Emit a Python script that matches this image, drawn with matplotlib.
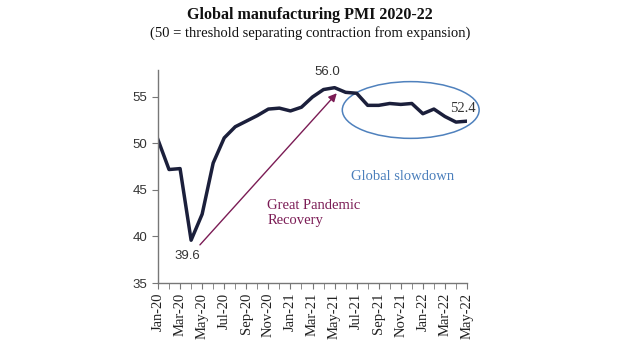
import matplotlib
matplotlib.use("Agg")
import matplotlib.pyplot as plt
from matplotlib.patches import Ellipse

months = ["Jan-20","Feb-20","Mar-20","Apr-20","May-20","Jun-20","Jul-20","Aug-20","Sep-20","Oct-20",
          "Nov-20","Dec-20","Jan-21","Feb-21","Mar-21","Apr-21","May-21","Jun-21","Jul-21","Aug-21",
          "Sep-21","Oct-21","Nov-21","Dec-21","Jan-22","Feb-22","Mar-22","Apr-22","May-22"]
pmi = [50.4, 47.2, 47.3, 39.6, 42.4, 47.9, 50.6, 51.8, 52.4, 53.0,
       53.7, 53.8, 53.5, 53.9, 55.0, 55.8, 56.0, 55.5, 55.4, 54.1,
       54.1, 54.3, 54.2, 54.3, 53.2, 53.7, 52.9, 52.3, 52.4]
yticks = [35, 40, 45, 50, 55]

serif = ["Liberation Serif", "DejaVu Serif"]
sans = ["Liberation Sans", "DejaVu Sans"]

fig = plt.figure(figsize=(6.2, 3.55), dpi=100)
ax = fig.add_axes([158/620, 1-283/355, (467-158)/620, (283-70)/355])
x = list(range(len(months)))
ax.plot(x, pmi, color="#1b1f3b", lw=2.5, solid_joinstyle="round")
ax.set_xlim(0, len(months)-1)
ax.set_ylim(35, 57.9)
ax.set_yticks(yticks)
ax.set_yticklabels([str(v) for v in yticks], fontfamily=sans, fontsize=9.5, color="#333333")
ax.set_xticks(x[::2])
ax.set_xticklabels(months[::2], rotation=90, fontfamily=serif, fontsize=10.5, color="#222222")
ax.set_xticks(x, minor=True)
ax.tick_params(axis="x", which="both", direction="out", length=4, color="#777777", pad=3)
ax.tick_params(axis="y", direction="out", length=4, color="#777777")
for s in ["top", "right"]:
    ax.spines[s].set_visible(False)
for s in ["left", "bottom"]:
    ax.spines[s].set_color("#777777")
    ax.spines[s].set_linewidth(1.0)

imin = pmi.index(min(pmi))
imax = pmi.index(max(pmi))
ax.text(imin - 0.3, pmi[imin] - 1.7, f"{pmi[imin]:.1f}", ha="center", va="center",
        fontfamily=sans, fontsize=9.5, color="#333333")
ax.text(imax - 0.7, pmi[imax] + 1.7, f"{pmi[imax]:.1f}", ha="center", va="center",
        fontfamily=sans, fontsize=9.5, color="#333333")
ax.text(len(pmi) - 1.4, pmi[-1] + 1.4, f"{pmi[-1]:.1f}", ha="center", va="center",
        fontfamily=serif, fontsize=10.5, color="#333333")

ax.annotate("", xy=(16.2, 55.4), xytext=(3.8, 39.1),
            arrowprops=dict(arrowstyle="-|>", color="#7b1c55", lw=1.0,
                            mutation_scale=12, shrinkA=0, shrinkB=0))
ax.text(9.9, 42.5, "Great Pandemic\nRecovery", ha="left", va="center",
        fontfamily=serif, fontsize=10.5, color="#7b1c55", linespacing=1.15)

ax.add_patch(Ellipse((22.9, 53.6), 12.4, 6.1, fill=False, edgecolor="#4f81bd", lw=1.1,
                     clip_on=False))
ax.text(22.2, 46.4, "Global slowdown", ha="center", va="center",
        fontfamily=serif, fontsize=10.5, color="#4a7ebb")

fig.text(0.5, 1-15/355, "Global manufacturing PMI 2020-22", ha="center", va="center",
         fontfamily=serif, fontsize=11.5, fontweight="bold", color="#111111")
fig.text(0.5, 1-33/355, "(50 = threshold separating contraction from expansion)", ha="center",
         va="center", fontfamily=serif, fontsize=10.5, color="#111111")

fig.savefig("out.png", dpi=100)
